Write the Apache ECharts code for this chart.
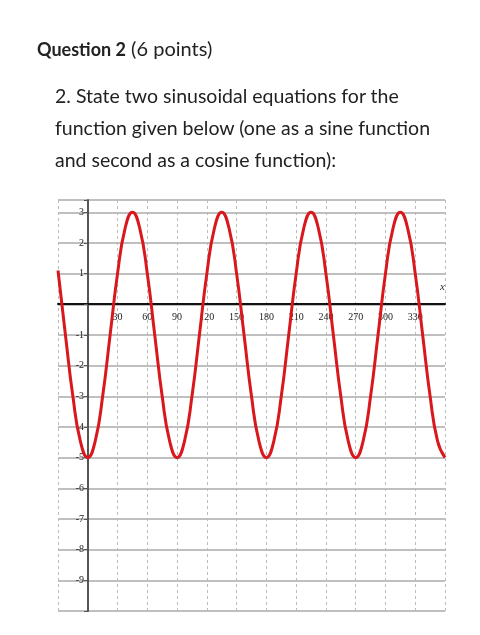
<!DOCTYPE html>
<html>
<head>
<meta charset="utf-8">
<script src="https://cdn.jsdelivr.net/npm/echarts@6/dist/echarts.min.js"></script>
<style>
  body { margin: 0; background: #fff; font-family: Lato, "Open Sans", sans-serif; color: #222; }
  #wrap { position: relative; width: 480px; height: 635px; }
  #chart { position: absolute; left: 0; top: 0; width: 480px; height: 635px; }
  .q { position: absolute; left: 37px; top: 36px; font-size: 20px; }
  .q b { font-weight: bold; font-size: 18px; }
  .body { position: absolute; left: 55px; top: 80px; width: 395px; font-size: 19.5px; line-height: 32px; }
</style>
</head>
<body>
<div id="wrap">
  <div id="chart"></div>
  <div class="q"><b>Question 2</b> (6 points)</div>
  <div class="body">2. State two sinusoidal equations for the function given below (one as a sine function and second as a cosine function):</div>
</div>
<script>
// x values in degrees, y values
const xValues = [-30, -22.5, -15, -7.5, 0, 7.5, 15, 22.5, 30, 37.5, 45, 52.5, 60, 67.5, 75, 82.5,
  90, 97.5, 105, 112.5, 120, 127.5, 135, 142.5, 150, 157.5, 165, 172.5,
  180, 187.5, 195, 202.5, 210, 217.5, 225, 232.5, 240, 247.5, 255, 262.5,
  270, 277.5, 285, 292.5, 300, 307.5, 315, 322.5, 330, 337.5, 345, 352.5, 360];
const yValues = [1.1, -1, -3, -4.46, -5, -4.46, -3, -1, 1, 2.46, 3, 2.46, 1, -1, -3, -4.46,
  -5, -4.46, -3, -1, 1, 2.46, 3, 2.46, 1, -1, -3, -4.46,
  -5, -4.46, -3, -1, 1, 2.46, 3, 2.46, 1, -1, -3, -4.46,
  -5, -4.46, -3, -1, 1, 2.46, 3, 2.46, 1, -1, -3, -4.46, -5];
const xTickLabels = [30, 60, 90, 120, 150, 180, 210, 240, 270, 300, 330];
const yTickLabels = [3, 2, 1, -1, -2, -3, -4, -5, -6, -7, -8, -9];

const chart = echarts.init(document.getElementById('chart'));
const serif = '"Liberation Serif", "DejaVu Serif", serif';

chart.setOption({
  animation: false,
  grid: { left: 58, right: 35, top: 200, bottom: 24 },
  xAxis: {
    type: 'value', min: -30, max: 360, interval: 30,
    offset: -307,
    axisLine: { onZero: false, lineStyle: { color: '#111', width: 2 } },
    axisTick: { show: false },
    axisLabel: {
      fontFamily: serif, fontSize: 10, color: '#222', margin: 8, align: 'center',
      formatter: v => xTickLabels.includes(v) ? String(v) : ''
    },
    splitLine: { show: true, lineStyle: { color: '#bbb', type: [3, 3], width: 1 } }
  },
  yAxis: {
    type: 'value', min: -10, max: 3.4, interval: 1,
    offset: -30,
    axisLine: { onZero: false, lineStyle: { color: '#555', width: 2 } },
    axisTick: { show: true, length: 4, lineStyle: { color: '#555' } },
    axisLabel: {
      fontFamily: serif, fontSize: 10, color: '#222', margin: 4,
      formatter: v => yTickLabels.includes(v) ? String(v) : ''
    },
    splitLine: { show: true, lineStyle: { color: '#aaa', width: 1.5 } }
  },
  graphic: [{
    type: 'text', left: 440, top: 282,
    style: { text: 'x', font: 'italic 11px "Liberation Serif", serif', fill: '#333' }
  }],
  series: [{
    type: 'line',
    data: xValues.map((x, i) => [x, yValues[i]]),
    smooth: true,
    showSymbol: false,
    lineStyle: { color: '#d9181e', width: 3 }
  }]
});
</script>
</body>
</html>
